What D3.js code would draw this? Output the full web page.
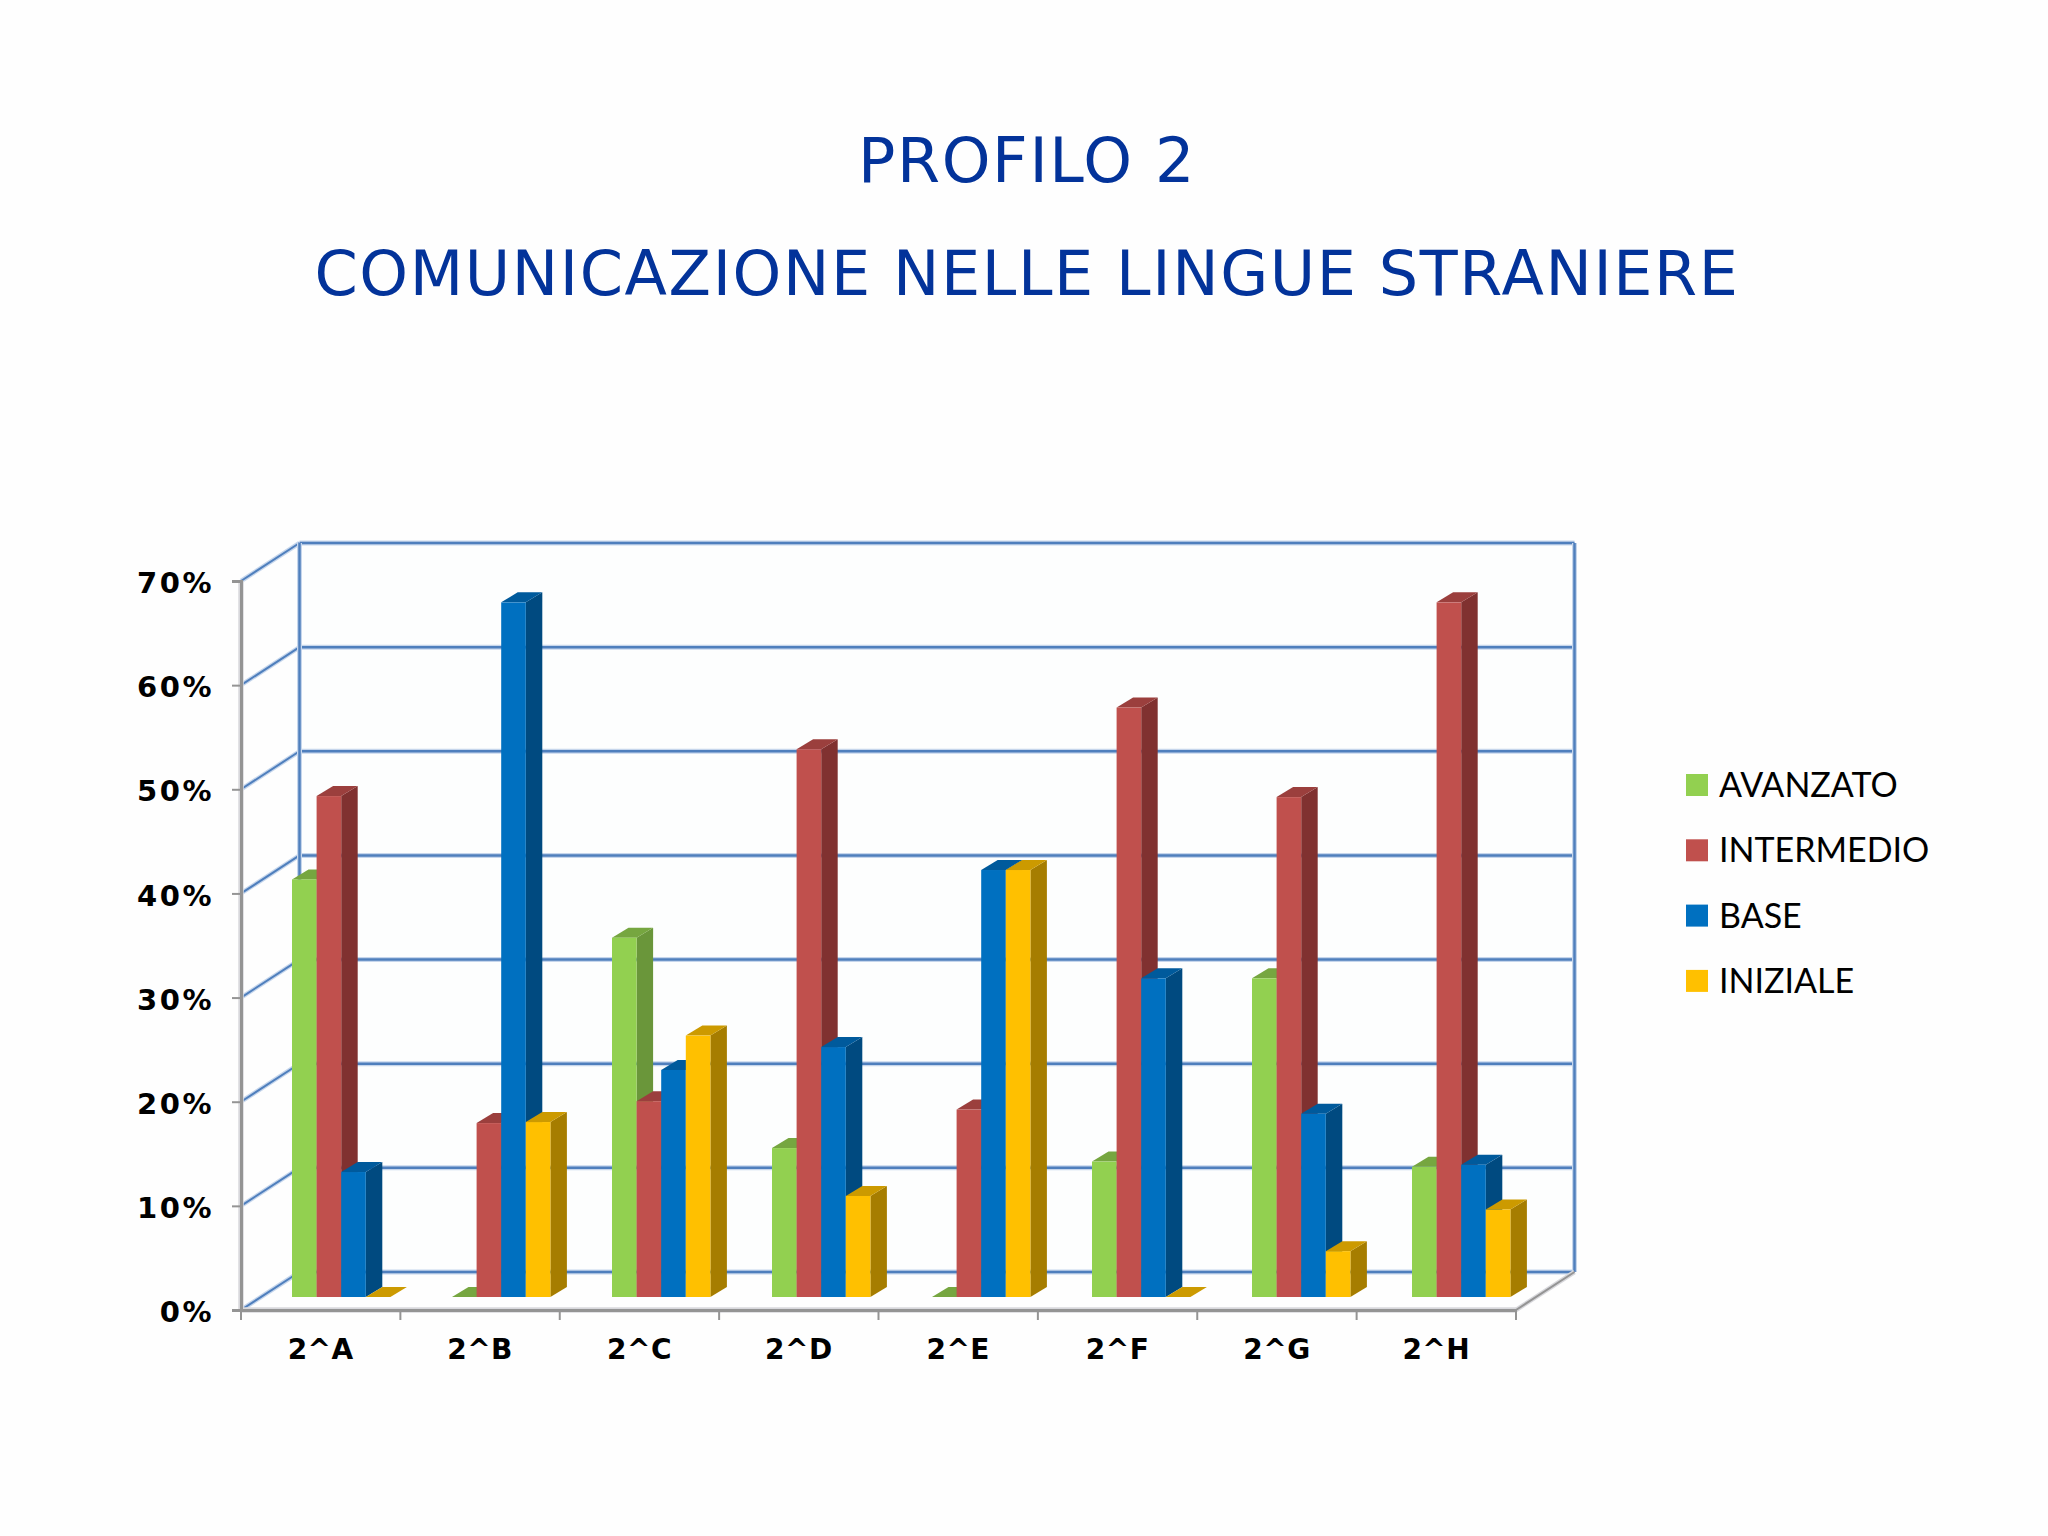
<!DOCTYPE html>
<html>
<head>
<meta charset="utf-8">
<script src="https://cdn.jsdelivr.net/npm/d3@7"></script>
<style>
  html, body { margin: 0; padding: 0; background: #fefefe; }
  svg { display: block; }
</style>
</head>
<body>
<script>
var titleLines  = ["PROFILO 2", "COMUNICAZIONE NELLE LINGUE STRANIERE"];
var categories  = ["2^A", "2^B", "2^C", "2^D", "2^E", "2^F", "2^G", "2^H"];
var seriesNames = ["AVANZATO", "INTERMEDIO", "BASE", "INIZIALE"];
var avanzato    = [40.1,  0.0, 34.5, 14.3,  0.0, 13.0, 30.6, 12.5];
var intermedio  = [48.1, 16.7, 18.8, 52.6, 18.0, 56.6, 48.0, 66.7];
var base        = [12.0, 66.7, 21.8, 24.0, 41.0, 30.6, 17.6, 12.7];
var iniziale    = [ 0.0, 16.8, 25.1,  9.7, 41.0,  0.0,  4.4,  8.4];
var yTicks      = [0, 10, 20, 30, 40, 50, 60, 70];

var seriesValues = [avanzato, intermedio, base, iniziale];
var colFront = ["#92d050", "#c0504d", "#0070c0", "#ffc000"];
var colTop   = ["#76a640", "#9b3f3d", "#005a9c", "#cc9a00"];
var colSide  = ["#6a963a", "#803130", "#004a80", "#a67d00"];

var W = 2048, H = 1536;
var gridCol = "#4f7fbd", gridHalo = "#c6d6ec", axisCol = "#949494", axisHalo = "#d8d8dc";

// 3d box: floor depth, and where the bars stand inside it
var depthX = 58.5, depthY = -38;
var barOffY = -13;
var barDepthX = 16.5, barDepthY = -10;
var barW = 24.6;

var x = d3.scaleBand().domain(categories).range([241, 1516]);
// the bars sit on a plane slightly further apart than the axis ticks
var xBar = d3.scaleBand().domain(categories).range([261.2, 261.2 + 8 * 160]);
var y = d3.scaleLinear().domain([0, 70]).range([1310, 581]);

var svg = d3.select("body").append("svg")
    .attr("width", W)
    .attr("height", H);

svg.append("rect")
    .attr("width", W)
    .attr("height", H)
    .attr("fill", "#fefefe");

// title
svg.selectAll("text.title")
    .data(titleLines)
    .enter().append("text")
    .attr("class", "title")
    .attr("x", 1027)
    .attr("y", function(d, i) { return 182 + i * 113; })
    .attr("text-anchor", "middle")
    .attr("font-family", "DejaVu Sans")
    .attr("font-size", 62)
    .attr("letter-spacing", 1.6)
    .attr("fill", "#03339a")
    .text(function(d) { return d; });

function line(x1, y1, x2, y2, col, w, halo) {
    if (halo) {
        svg.append("line")
            .attr("x1", x1).attr("y1", y1)
            .attr("x2", x2).attr("y2", y2)
            .attr("stroke", halo)
            .attr("stroke-width", w + 2.5);
    }
    svg.append("line")
        .attr("x1", x1).attr("y1", y1)
        .attr("x2", x2).attr("y2", y2)
        .attr("stroke", col)
        .attr("stroke-width", w);
}

var x0 = x.range()[0], x1 = x.range()[1];

// back wall and side wall grid
svg.append("rect")
    .attr("x", x0 + depthX)
    .attr("y", y(70) + depthY)
    .attr("width", x1 - x0)
    .attr("height", y(0) - y(70))
    .attr("fill", "#fdfefe");

yTicks.forEach(function(t) {
    line(x0 + depthX, y(t) + depthY, x1 + depthX, y(t) + depthY, gridCol, 2.5, gridHalo);
    line(x0, y(t), x0 + depthX, y(t) + depthY, gridCol, 2, gridHalo);
});
line(x0 + depthX, y(70) + depthY, x0 + depthX, y(0) + depthY, gridCol, 2.5, gridHalo);
line(x1 + depthX, y(70) + depthY, x1 + depthX, y(0) + depthY, gridCol, 2.5, gridHalo);

// floor right edge
line(x1, y(0), x1 + depthX, y(0) + depthY, axisCol, 2, axisHalo);

// axis halos go under the d3 axes
line(x0, y(70), x0, y(0), axisHalo, 5.5);
line(x0, y(0), x1, y(0), axisHalo, 5.5);

// axes
var yAxis = d3.axisLeft(y)
    .tickValues(yTicks)
    .tickSize(9)
    .tickFormat(function(d) { return d + "%"; });
var xAxis = d3.axisBottom(x).tickSize(0);

var gy = svg.append("g").attr("transform", "translate(" + x0 + ",0)").call(yAxis);
gy.select(".domain").attr("stroke", axisCol).attr("stroke-width", 3);
gy.selectAll(".tick line").attr("stroke", axisCol).attr("stroke-width", 2);
gy.selectAll(".tick text")
    .attr("x", -27)
    .attr("dy", "0.4em")
    .attr("font-family", "DejaVu Sans")
    .attr("font-weight", "bold")
    .attr("font-size", 29)
    .attr("letter-spacing", 2.5)
    .attr("fill", "#000");

var gx = svg.append("g").attr("transform", "translate(0," + y(0) + ")").call(xAxis);
gx.select(".domain").attr("stroke", axisCol).attr("stroke-width", 3);
gx.selectAll(".tick text")
    .attr("y", 49)
    .attr("dy", 0)
    .attr("font-family", "DejaVu Sans")
    .attr("font-weight", "bold")
    .attr("font-size", 28)
    .attr("letter-spacing", 0.5)
    .attr("fill", "#000");
gx.selectAll("line.sep")
    .data(d3.range(categories.length + 1))
    .enter().append("line")
    .attr("class", "sep")
    .attr("x1", function(i) { return x0 + i * x.bandwidth(); })
    .attr("x2", function(i) { return x0 + i * x.bandwidth(); })
    .attr("y1", 0)
    .attr("y2", 10)
    .attr("stroke", axisCol)
    .attr("stroke-width", 2);

// bars, left to right so the next bar covers the side of the previous one
var pad = (xBar.bandwidth() - barW * seriesNames.length) / 2;
categories.forEach(function(c, ci) {
    seriesValues.forEach(function(vals, si) {
        var bx = xBar(c) + pad + si * barW;
        var base0 = y(0) + barOffY;
        var by = y(vals[ci]) + barOffY;
        var g = svg.append("g");
        var dx = barDepthX, dy = barDepthY;
        g.append("polygon")
            .attr("points", [[bx + barW, by], [bx + barW + dx, by + dy], [bx + barW + dx, base0 + dy], [bx + barW, base0]].join(" "))
            .attr("fill", colSide[si]);
        g.append("polygon")
            .attr("points", [[bx, by], [bx + dx, by + dy], [bx + barW + dx, by + dy], [bx + barW, by]].join(" "))
            .attr("fill", colTop[si]);
        g.append("rect")
            .attr("x", bx)
            .attr("y", by)
            .attr("width", barW)
            .attr("height", base0 - by)
            .attr("fill", colFront[si]);
    });
});

// legend
var legend = svg.selectAll("g.legend")
    .data(seriesNames)
    .enter().append("g")
    .attr("class", "legend")
    .attr("transform", function(d, i) { return "translate(1686," + (774 + i * 65.3) + ")"; });
legend.append("rect")
    .attr("width", 22)
    .attr("height", 22)
    .attr("fill", function(d, i) { return colFront[i]; });
legend.append("text")
    .attr("x", 33)
    .attr("y", 23)
    .attr("font-family", "Lato")
    .attr("font-size", 34)
    .attr("fill", "#000")
    .text(function(d) { return d; });
</script>
</body>
</html>
